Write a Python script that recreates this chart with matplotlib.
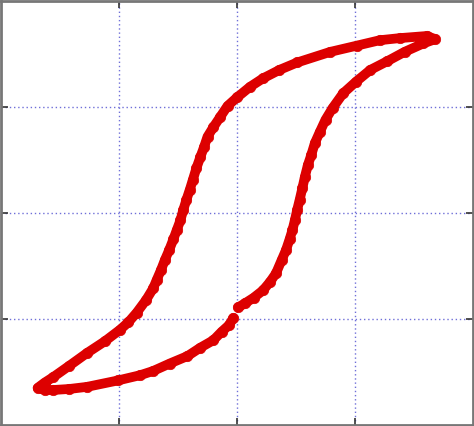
import numpy as np
import matplotlib
matplotlib.use('Agg')
import matplotlib.pyplot as plt

# rising branch (starts at the small gap near the centre)
up_x = [0.01, 0.07, 0.14, 0.22, 0.28, 0.33, 0.38, 0.415, 0.445, 0.47, 0.49, 0.51, 0.53, 0.555,
        0.575, 0.60, 0.63, 0.66, 0.70, 0.75, 0.81, 0.90, 1.01, 1.13, 1.27, 1.42, 1.58, 1.68]
up_y = [-0.89, -0.85, -0.80, -0.73, -0.65, -0.57, -0.44, -0.35, -0.25, -0.16, -0.07, 0.03, 0.12, 0.24,
        0.34, 0.45, 0.55, 0.66, 0.76, 0.88, 0.99, 1.13, 1.24, 1.35, 1.43, 1.52, 1.60, 1.64]

# falling branch (top tip back to bottom tip)
down_x = [1.61, 1.38, 1.21, 1.02, 0.79, 0.51, 0.36, 0.22, 0.11, 0.00, -0.08, -0.14, -0.20,
          -0.25, -0.28, -0.31, -0.345, -0.375, -0.40, -0.43, -0.455, -0.48, -0.51, -0.54, -0.575,
          -0.61, -0.645, -0.68, -0.71, -0.77, -0.85, -0.92, -0.99, -1.12, -1.27, -1.42, -1.56,
          -1.63, -1.69]
down_y = [1.67, 1.65, 1.63, 1.58, 1.52, 1.42, 1.35, 1.27, 1.19, 1.09, 1.01, 0.91, 0.81,
          0.72, 0.62, 0.53, 0.42, 0.31, 0.22, 0.12, 0.03, -0.07, -0.16, -0.25, -0.35,
          -0.44, -0.54, -0.63, -0.71, -0.82, -0.94, -1.03, -1.10, -1.21, -1.32, -1.44, -1.55,
          -1.60, -1.65]

# lower return branch up to the gap
low_x = [-1.63, -1.56, -1.42, -1.27, -1.01, -0.82, -0.71, -0.57, -0.42, -0.31, -0.20, -0.13, -0.07, -0.03]
low_y = [-1.67, -1.67, -1.66, -1.64, -1.58, -1.53, -1.49, -1.42, -1.35, -1.27, -1.20, -1.12, -1.06, -0.99]

ticks = [-1, 0, 1]

x = np.array(up_x + down_x + low_x)
y = np.array(up_y + down_y + low_y)

fig = plt.figure(figsize=(4.74, 4.26), dpi=100)
ax = fig.add_axes([1 / 474, 1 / 426, 472 / 474, 424 / 426])

red = '#dd0000'
ax.plot(x, y, '-', color=red, lw=7.0, solid_capstyle='round', solid_joinstyle='round', zorder=3)
ax.plot(x, y, 'o', color=red, ms=7.5, mec=red, mew=0.5, zorder=4)

ax.set_xlim(-2, 2)
ax.set_ylim(-2, 2)
ax.set_xticks(ticks)
ax.set_yticks(ticks)
ax.set_xticklabels([])
ax.set_yticklabels([])
ax.tick_params(direction='in', length=5, width=1.2, color='#333333',
               top=True, right=True, bottom=True, left=True)
ax.grid(True, linestyle=(0, (1, 2)), color='#6f6fd8', lw=1.0)
for s in ax.spines.values():
    s.set_color('#777777')
    s.set_linewidth(2)

fig.savefig('out.png', dpi=100)
